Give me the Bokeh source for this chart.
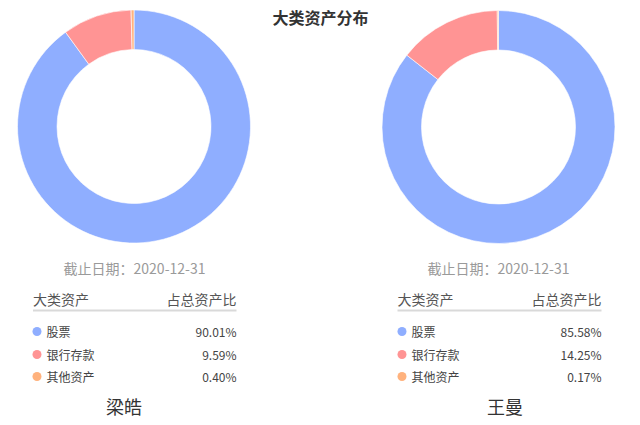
import numpy as np
from bokeh.plotting import figure
from bokeh.models import Range1d
from bokeh.core.properties import value
from bokeh.embed import file_html
from bokeh.resources import INLINE

title = "大类资产分布"
categories = ["股票", "银行存款", "其他资产"]
colors = ["#8FAEFF", "#FF9494", "#FFB27D"]
managers = ["梁皓", "王曼"]
dates = ["截止日期：2020-12-31", "截止日期：2020-12-31"]
values_left = [90.01, 9.59, 0.40]
values_right = [85.58, 14.25, 0.17]
labels_left = ["90.01%", "9.59%", "0.40%"]
labels_right = ["85.58%", "14.25%", "0.17%"]

W, H = 640, 425
FONT = value("Noto Sans CJK SC")

p = figure(width=W, height=H, output_backend="svg", toolbar_location=None,
           x_range=Range1d(0, W), y_range=Range1d(0, H),
           x_axis_location=None, y_axis_location=None, min_border=0)
p.grid.visible = False
p.outline_line_color = None

def px(x):
    return x

def py(y):
    return H - y

p.text(x=[px(320)], y=[py(16)], text=[title], text_font=FONT, text_font_size="16px",
       text_font_style="bold", text_color="#333333", text_align="center", text_baseline="middle")

panels = [
    dict(vals=values_left, labels=labels_left, cx=133.5, cy=126, tl=32.5, tr=236,
         dotx=36.5, textx=46, datex=134, name=managers[0], namex=123.5, date=dates[0]),
    dict(vals=values_right, labels=labels_right, cx=498, cy=126.5, tl=397, tr=601,
         dotx=401.5, textx=411, datex=498, name=managers[1], namex=504.5, date=dates[1]),
]

for pn in panels:
    v = np.array(pn["vals"], dtype=float)
    frac = v / v.sum()
    cum = np.concatenate([[0], np.cumsum(frac)])
    start = np.pi / 2 - cum[:-1] * 2 * np.pi
    end = np.pi / 2 - cum[1:] * 2 * np.pi
    p.annular_wedge(x=px(pn["cx"]), y=py(pn["cy"]), inner_radius=77, outer_radius=116.5,
                    start_angle=start, end_angle=end, direction="clock",
                    fill_color=colors, line_color="white", line_width=0.6)
    p.text(x=[px(pn["datex"])], y=[py(267)], text=[pn["date"]], text_font=FONT,
           text_font_size="14px", text_color="#9a9a9a", text_align="center", text_baseline="middle")
    p.text(x=[px(pn["tl"])], y=[py(298)], text=["大类资产"], text_font=FONT,
           text_font_size="14px", text_color="#555555", text_align="left", text_baseline="middle")
    p.text(x=[px(pn["tr"])], y=[py(298)], text=["占总资产比"], text_font=FONT,
           text_font_size="14px", text_color="#555555", text_align="right", text_baseline="middle")
    p.segment(x0=[px(pn["tl"])], y0=[py(310)], x1=[px(pn["tr"])], y1=[py(310)],
              line_color="#d9d9d9", line_width=2)
    rows_y = [py(331), py(354), py(376)]
    p.scatter(x=[px(pn["dotx"])] * 3, y=rows_y, size=9, fill_color=colors, line_color=None)
    p.text(x=[px(pn["textx"])] * 3, y=rows_y, text=categories, text_font=FONT,
           text_font_size="12px", text_color="#444444", text_align="left", text_baseline="middle")
    p.text(x=[px(pn["tr"])] * 3, y=rows_y, text=pn["labels"], text_font=FONT,
           text_font_size="12px", text_color="#444444", text_align="right", text_baseline="middle")
    p.text(x=[px(pn["namex"])], y=[py(405)], text=[pn["name"]], text_font=FONT,
           text_font_size="18px", text_color="#333333", text_align="center", text_baseline="middle")

open("out.html", "w").write(file_html(p, INLINE))
